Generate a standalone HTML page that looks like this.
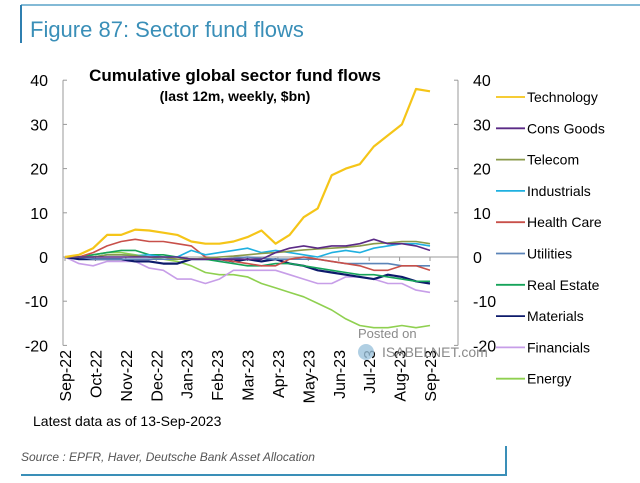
<!DOCTYPE html>
<html><head><meta charset="utf-8">
<style>
body{margin:0;background:#fff;width:640px;height:483px;overflow:hidden;font-family:"Liberation Sans",sans-serif}
svg{display:block}
</style></head>
<body>
<svg id="c" width="640" height="483" viewBox="0 0 640 483" xmlns="http://www.w3.org/2000/svg">
<line x1="21" y1="5" x2="640" y2="5" stroke="#5aa3c8" stroke-width="1.5"/>
<line x1="21" y1="5" x2="21" y2="43" stroke="#2f7fb0" stroke-width="2"/>
<text x="30" y="37" font-size="22" fill="#3a8fb8">Figure 87: Sector fund flows</text>
<text x="235" y="81" font-size="17" font-weight="bold" text-anchor="middle" font-family="Liberation Sans Narrow, Liberation Sans, sans-serif">Cumulative global sector fund flows</text>
<text x="235" y="101" font-size="14" font-weight="bold" text-anchor="middle" font-family="Liberation Sans Narrow, Liberation Sans, sans-serif">(last 12m, weekly, $bn)</text>
<g id="axes"></g>
<g id="series"></g>
<g id="legend"></g>
<text x="358" y="338" font-size="13" fill="#8a8a8a">Posted on</text>
<circle cx="366" cy="352" r="8" fill="#9cc3dc" opacity="0.8"/>
<text x="382" y="357" font-size="14" fill="#8a8a8a">ISABELNET.com</text>
<text x="33" y="426" font-size="14" font-family="Liberation Sans Narrow, Liberation Sans, sans-serif">Latest data as of 13-Sep-2023</text>
<text x="21" y="461" font-size="12" font-style="italic" fill="#555">Source : EPFR, Haver, Deutsche Bank Asset Allocation</text>
<line x1="21" y1="475" x2="507" y2="475" stroke="#3a8fb8" stroke-width="2"/>
<line x1="506" y1="446" x2="506" y2="475" stroke="#3a8fb8" stroke-width="2"/>
</svg>
<script>
const months = ["Sep-22","Oct-22","Nov-22","Dec-22","Jan-23","Feb-23","Mar-23","Apr-23","May-23","Jun-23","Jul-23","Aug-23","Sep-23"];
const yTicks = [40,30,20,10,0,-10,-20];
const seriesNames = ["Technology","Cons Goods","Telecom","Industrials","Health Care","Utilities","Real Estate","Materials","Financials","Energy"];
const seriesColors = ["#f5c518","#5b2a86","#8a9a4a","#1fb0e0","#c8504a","#5b84b8","#16a35a","#0d1a6b","#c79ee8","#8fd050"];
const technology = [0,0.5,2,5,5,6.2,6,5.5,5,3.5,3,3,3.5,4.5,6,3,5,9,11,18.5,20,21,25,27.5,30,38,37.5];
const consGoods = [0,0,0,0,0,0,0,0,0,-0.5,-0.5,-0.5,-0.5,-0.5,-0.5,1,2,2.5,2,2.5,2.5,3,4,3,3,2.5,1.5];
const telecom = [0,0,0,0.5,0.5,0.3,0,0,-0.5,-0.5,-0.3,0,0.2,0.5,0.8,1,1.3,1.6,1.8,2,2.2,2.5,3,3.2,3.5,3.5,3];
const industrials = [0,0,0,0.5,0.5,0.3,0.5,0,0,1.5,0.5,1,1.5,2,1,1.5,1,0.5,0,1,1.5,1,2,2.5,3,3,2.5];
const healthCare = [0,0,1,2.5,3.5,4,3.5,3.5,3,2.5,0,-0.5,-1,-1.5,-2,-2,-0.5,0,-0.5,-1,-1.5,-2,-3,-3,-2,-2,-3];
const utilities = [0,0,-0.5,-0.5,-0.5,-0.5,-0.5,-0.5,-0.5,-0.5,-0.5,-0.5,-0.3,0,-0.3,-0.5,-0.5,-0.5,-0.5,-1,-1.5,-1.5,-1.5,-1.5,-2,-2,-2];
const realEstate = [0,0,0.5,1,1.5,1.5,0.5,0.5,0,-0.5,-0.5,-1,-1.5,-2,-2,-1.5,-1.5,-2,-2.5,-3,-3.5,-4,-4,-4.5,-5,-5.5,-5.5];
const materials = [0,-0.5,-0.5,-0.5,-0.5,-1,-1,-1.5,-1.5,-0.5,-0.5,-0.5,-1,-0.5,-1,-0.5,-1.5,-2,-3,-3.5,-4,-4.5,-5,-4,-4.5,-5.5,-6];
const financials = [0,-1.5,-2,-1,-1,-1,-2.5,-3,-5,-5,-6,-5,-3,-3,-3,-3,-4,-5,-6,-6,-4.5,-4.5,-5,-6,-6,-7.5,-8];
const energy = [0,0,0.5,1,1,0.5,0,-0.5,-1,-2,-3.5,-4,-4,-4.5,-6,-7,-8,-9,-10.5,-12,-14,-15.5,-16,-16,-15.5,-16,-15.5];
const allSeries = [technology,consGoods,telecom,industrials,healthCare,utilities,realEstate,materials,financials,energy];

const NS="http://www.w3.org/2000/svg";
const X0=65, X1=430, Y0=257, PX=4.42;
function xPos(i,n){return X0+(X1-X0)*i/(n-1);}
function yPos(v){return Y0-v*PX;}
function mk(tag,attrs,parent){const e=document.createElementNS(NS,tag);for(const k in attrs)e.setAttribute(k,attrs[k]);parent.appendChild(e);return e;}

const axes=document.getElementById('axes');
let e;
e=mk('line',{x1:63,y1:yPos(40),x2:63,y2:yPos(-20),stroke:'#999'},axes);


e=mk('line',{x1:458,y1:yPos(40),x2:458,y2:yPos(-20),stroke:'#999'},axes);


e=mk('line',{x1:63,y1:yPos(0),x2:458,y2:yPos(0),stroke:'#999'},axes);


yTicks.forEach(v=>{
  const y=yPos(v);
  mk('line',{x1:63,y1:y,x2:67,y2:y,stroke:'#999'},axes);
  mk('line',{x1:454,y1:y,x2:458,y2:y,stroke:'#999'},axes);
  e=mk('text',{x:48,y:y+6,'font-size':16,'text-anchor':'end'},axes);
  e.textContent=v;
  
  
  e=mk('text',{x:473,y:y+6,'font-size':16},axes);
  e.textContent=v;
  
  
});
months.forEach((m,i)=>{
  const x=xPos(i,months.length);
  mk('line',{x1:x,y1:yPos(0),x2:x,y2:yPos(0)+4,stroke:'#999'},axes);
  e=mk('text',{x:0,y:0,'font-size':16,'text-anchor':'end',transform:`translate(${x+6},350) rotate(-90)`},axes);
  e.textContent=m;
  
  
});

const sg=document.getElementById('series');
for(let s=allSeries.length-1;s>=0;s--){
  const d=allSeries[s];
  const pts=d.map((v,i)=>xPos(i,d.length).toFixed(1)+','+yPos(v).toFixed(1)).join(' ');
  e=mk('polyline',{points:pts,fill:'none',stroke:seriesColors[s],'stroke-width':s===0||s===7?2.2:1.6,'stroke-linejoin':'round'},sg);
  
  
}
const lg=document.getElementById('legend');
seriesNames.forEach((n,i)=>{
  const y=97+i*31.3;
  const g=mk('g',{},lg);
  
  
  mk('line',{x1:496,y1:y,x2:525,y2:y,stroke:seriesColors[i],'stroke-width':1.8},g);
  const t=mk('text',{x:527,y:y+5,'font-size':14,'font-family':'Liberation Sans Narrow, Liberation Sans, sans-serif'},g);
  t.textContent=n;
});
</script>
</body></html>
